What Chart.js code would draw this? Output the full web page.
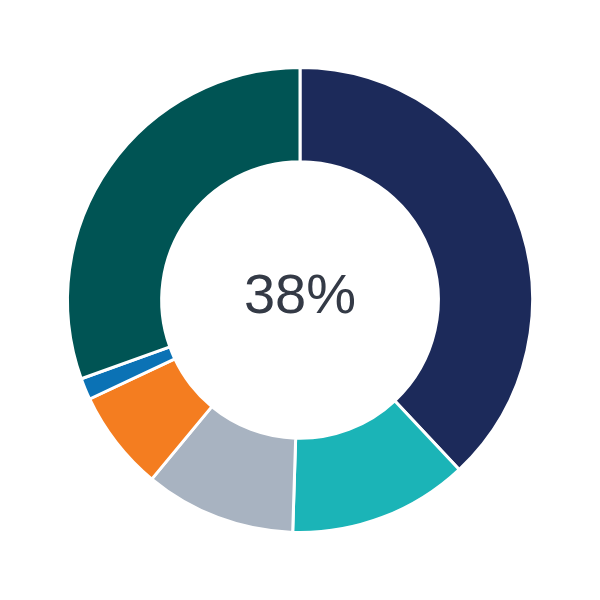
<!DOCTYPE html>
<html>
<head>
<meta charset="utf-8">
<script src="https://cdn.jsdelivr.net/npm/chart.js@4"></script>
<style>
  html, body { margin: 0; padding: 0; background: #fff; }
  #wrap { width: 600px; height: 600px; }
</style>
</head>
<body>
<div id="wrap"><canvas id="donut"></canvas></div>
<script>
const labels = ["A", "B", "C", "D", "E", "F"];
const values = [38, 12.5, 10.5, 7, 1.5, 30.5];
const colors = ["#1c2a5a", "#1bb4b7", "#a8b3c1", "#f47d20", "#0b72b5", "#005454"];
const centerLabel = values[0] + "%";

// texte au centre
const centerText = {
  id: "centerText",
  afterDraw(chart) {
    const { ctx, chartArea } = chart;
    const cx = (chartArea.left + chartArea.right) / 2;
    const cy = (chartArea.top + chartArea.bottom) / 2;
    ctx.save();
    ctx.font = "56px 'Liberation Sans', Arial, sans-serif";
    ctx.fillStyle = "#343a46";
    ctx.textAlign = "center";
    ctx.textBaseline = "middle";
    ctx.fillText(centerLabel, cx, cy - 2);
    ctx.restore();
  }
};

const ctx = document.getElementById("donut").getContext("2d");
new Chart(ctx, {
  type: "doughnut",
  data: {
    labels: labels,
    datasets: [{
      data: values,
      backgroundColor: colors,
      borderColor: "#ffffff",
      borderWidth: 3,
      hoverOffset: 0
    }]
  },
  options: {
    responsive: true,
    maintainAspectRatio: false,
    animation: false,
    cutout: "59.5%",
    layout: { padding: 66 },
    plugins: {
      legend: { display: false },
      tooltip: { enabled: false }
    }
  },
  plugins: [centerText]
});
</script>
</body>
</html>
